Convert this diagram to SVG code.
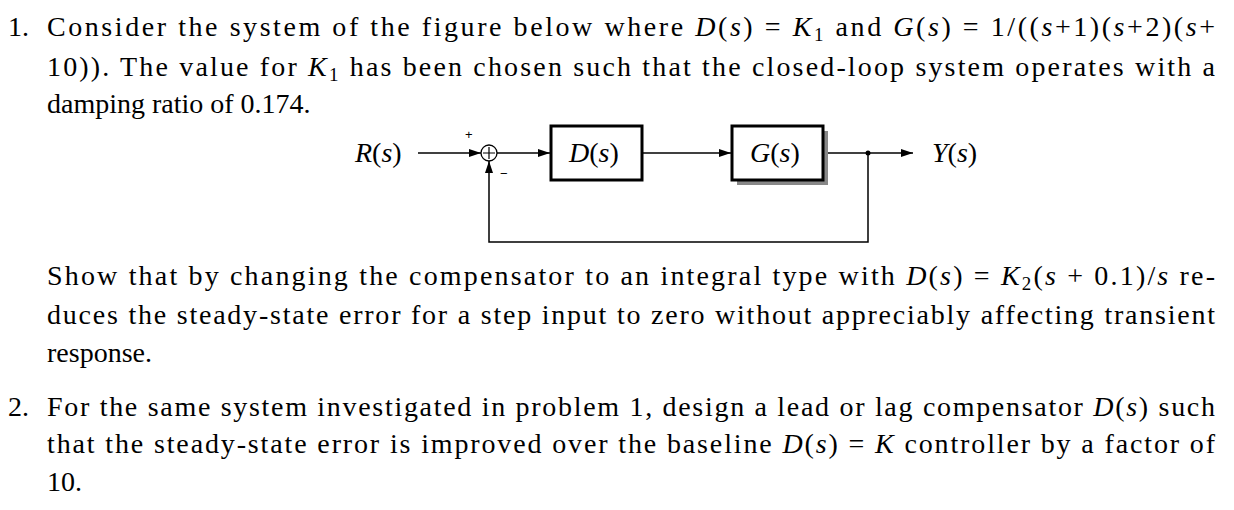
<svg xmlns="http://www.w3.org/2000/svg" width="1234" height="510" viewBox="0 0 1234 510">
<defs><marker id="ah" markerWidth="12" markerHeight="8" refX="12" refY="4" orient="auto" markerUnits="userSpaceOnUse"><path d="M0,0 L12,4 L0,8 z" fill="#000"/></marker></defs>
<style>
text{font-family:"Liberation Serif","Times New Roman",serif;font-size:28px;fill:#000}
.i{font-style:italic}
.s{font-size:13px;font-family:"Liberation Sans",sans-serif}
.c{stroke:#000;stroke-width:1.5;fill:none}
.b{fill:#fff;stroke:#000;stroke-width:3}
</style>
<rect width="1234" height="510" fill="#fff"/>
<text x="8" y="36">1.</text>
<text x="47" y="36" textLength="1168" lengthAdjust="spacing">Consider the system of the figure below where <tspan class="i">D</tspan>(<tspan class="i">s</tspan>) = <tspan class="i">K</tspan><tspan font-size="19" dy="5">1</tspan><tspan dy="-5"> and </tspan><tspan class="i">G</tspan>(<tspan class="i">s</tspan>) = 1/((<tspan class="i">s</tspan>+1)(<tspan class="i">s</tspan>+2)(<tspan class="i">s</tspan>+</text>
<text x="47" y="76" textLength="1168" lengthAdjust="spacing">10)). The value for <tspan class="i">K</tspan><tspan font-size="19" dy="5">1</tspan><tspan dy="-5"> has been chosen such that the closed-loop system operates with a</tspan></text>
<text x="47" y="113">damping ratio of 0.174.</text>
<g id="connectors">
<line class="c" x1="418" y1="153" x2="481" y2="153" marker-end="url(#ah)"/>
<line class="c" x1="497" y1="153" x2="550" y2="153" marker-end="url(#ah)"/>
<line class="c" x1="642" y1="153" x2="731" y2="153" marker-end="url(#ah)"/>
<line class="c" x1="823" y1="153" x2="913" y2="153" marker-end="url(#ah)"/>
<polyline class="c" points="868,153 868,242 489,242 489,161" marker-end="url(#ah)"/>
<circle cx="868" cy="153" r="2.5" fill="#000"/>
</g>
<g id="R"><text x="355" y="162" class="i">R<tspan font-style="normal">(</tspan>s<tspan font-style="normal">)</tspan></text></g>
<g id="sum"><circle cx="489" cy="153" r="8" fill="#fff" stroke="#000" stroke-width="1.3"/><path d="M483,153h12M489,147v12" stroke="#000" stroke-width="1.2"/><text class="s" x="465" y="139">+</text><text class="s" x="500" y="178">−</text></g>
<g id="D"><rect class="b" x="551" y="126" width="91" height="54"/><text x="569" y="162" class="i">D<tspan font-style="normal">(</tspan>s<tspan font-style="normal">)</tspan></text></g>
<g id="G"><rect x="737" y="131" width="91" height="54" fill="#888"/><rect class="b" x="732" y="126" width="91" height="54"/><text x="750" y="162" class="i">G<tspan font-style="normal">(</tspan>s<tspan font-style="normal">)</tspan></text></g>
<g id="Y"><text x="932" y="162" class="i">Y<tspan font-style="normal">(</tspan>s<tspan font-style="normal">)</tspan></text></g>
<text x="47" y="285" textLength="1168" lengthAdjust="spacing">Show that by changing the compensator to an integral type with <tspan class="i">D</tspan>(<tspan class="i">s</tspan>) = <tspan class="i">K</tspan><tspan font-size="19" dy="5">2</tspan><tspan dy="-5">(</tspan><tspan class="i">s</tspan> + 0.1)/<tspan class="i">s</tspan> re-</text>
<text x="47" y="324" textLength="1168" lengthAdjust="spacing">duces the steady-state error for a step input to zero without appreciably affecting transient</text>
<text x="47" y="362">response.</text>
<text x="8" y="416">2.</text>
<text x="47" y="416" textLength="1168" lengthAdjust="spacing">For the same system investigated in problem 1, design a lead or lag compensator <tspan class="i">D</tspan>(<tspan class="i">s</tspan>) such</text>
<text x="47" y="453" textLength="1168" lengthAdjust="spacing">that the steady-state error is improved over the baseline <tspan class="i">D</tspan>(<tspan class="i">s</tspan>) = <tspan class="i">K</tspan> controller by a factor of</text>
<text x="47" y="491">10.</text>
</svg>
